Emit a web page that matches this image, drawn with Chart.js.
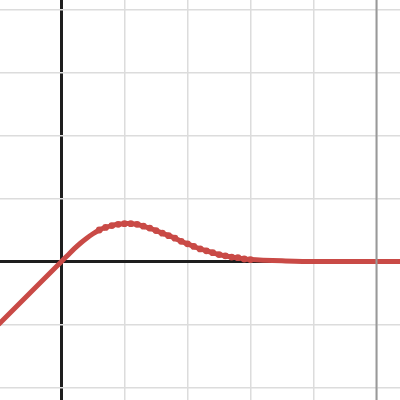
<!DOCTYPE html>
<html>
<head>
<meta charset="utf-8">
<script src="https://cdn.jsdelivr.net/npm/chart.js@4"></script>
<style>
  html, body { margin: 0; padding: 0; background: #fff; }
  #wrap { width: 400px; height: 400px; }
</style>
</head>
<body>
<div id="wrap"><canvas id="c" width="400" height="400"></canvas></div>
<script>
// values
const curveX = [-1, 0, 0.1, 0.2, 0.3, 0.4, 0.5, 0.6, 0.7, 0.8, 0.9, 1.0,
  1.1, 1.2, 1.3, 1.4, 1.5, 1.6, 1.7, 1.8, 1.9, 2.0,
  2.1, 2.2, 2.3, 2.4, 2.5, 2.6, 2.7, 2.8, 2.9, 3.0,
  3.2, 3.5, 4.0, 5.5];
const curveY = [-1, 0, 0.10, 0.20, 0.29, 0.37, 0.44, 0.50, 0.54, 0.57, 0.59, 0.60,
  0.60, 0.59, 0.56, 0.53, 0.49, 0.45, 0.41, 0.37, 0.32, 0.28,
  0.24, 0.20, 0.17, 0.14, 0.11, 0.09, 0.07, 0.06, 0.04, 0.03,
  0.02, 0.01, 0, 0];
const markerX = [5, 5];
const markerY = [-3, 5];

const xRange = [-0.976, 5.373];
const yRange = [-2.198, 4.15];

const curve = curveX.map((x, i) => ({ x: x, y: curveY[i] }));
const marker = markerX.map((x, i) => ({ x: x, y: markerY[i] }));

const red = '#c94a46';

function gridColor(ctx) {
  return ctx.tick && ctx.tick.value === 0 ? '#1e1e1e' : '#dcdcdc';
}
function gridWidth(ctx) {
  return ctx.tick && ctx.tick.value === 0 ? 3 : 1.5;
}

new Chart(document.getElementById('c'), {
  type: 'scatter',
  data: {
    datasets: [
      {
        data: marker,
        showLine: true,
        borderColor: '#999999',
        borderWidth: 2,
        pointRadius: 0,
        order: 0
      },
      {
        data: curve,
        showLine: true,
        borderColor: red,
        backgroundColor: red,
        borderWidth: 5,
        tension: 0.3,
        pointRadius: ctx => {
          const p = ctx.raw;
          return p && p.x >= 0.6 && p.x <= 3 ? 3.4 : 0;
        },
        pointBorderWidth: 0,
        order: 1
      }
    ]
  },
  options: {
    responsive: false,
    animation: false,
    layout: { padding: 0 },
    plugins: { legend: { display: false }, tooltip: { enabled: false } },
    scales: {
      x: {
        type: 'linear',
        min: xRange[0], max: xRange[1],
        border: { display: false },
        ticks: { display: false, stepSize: 1, includeBounds: false },
        grid: { drawTicks: false, color: gridColor, lineWidth: gridWidth }
      },
      y: {
        type: 'linear',
        min: yRange[0], max: yRange[1],
        border: { display: false },
        ticks: { display: false, stepSize: 1, includeBounds: false },
        grid: { drawTicks: false, color: gridColor, lineWidth: gridWidth }
      }
    }
  }
});
</script>
</body>
</html>
